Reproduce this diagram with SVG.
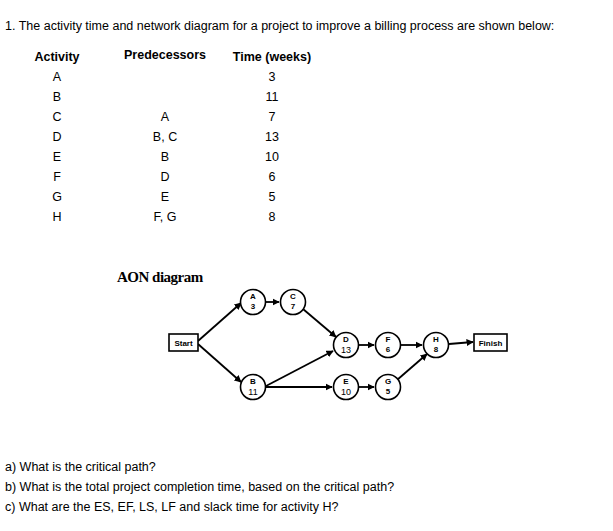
<svg xmlns="http://www.w3.org/2000/svg" width="613" height="531" viewBox="0 0 613 531">
<style>
text{font-family:"Liberation Sans",Arial,sans-serif;font-size:12.5px;fill:#000}
.h{font-weight:bold;font-size:12.5px}
.c{text-anchor:middle}
.n{text-anchor:middle;font-size:8px;font-weight:bold}
.nd circle,.nd rect{fill:#fff;stroke:#000;stroke-width:1.6}
#edges line{stroke:#000;stroke-width:1.8;marker-end:url(#ar)}
</style>
<defs><marker id="ar" viewBox="0 0 10 10" refX="9" refY="5" markerWidth="4" markerHeight="4" orient="auto"><path d="M0,0L10,5L0,10z"/></marker></defs>
<rect width="613" height="531" fill="#fff"/>
<text x="5" y="30">1. The activity time and network diagram for a project to improve a billing process are shown below:</text>
<text class="h c" x="57" y="61">Activity</text>
<text class="h c" x="165" y="59">Predecessors</text>
<text class="h c" x="272" y="61">Time (weeks)</text>
<g class="c">
<text class="c" x="57" y="81">A</text><text class="c" x="272" y="81">3</text>
<text class="c" x="57" y="101">B</text><text class="c" x="272" y="101">11</text>
<text class="c" x="57" y="121">C</text><text class="c" x="165" y="121">A</text><text class="c" x="272" y="121">7</text>
<text class="c" x="57" y="141">D</text><text class="c" x="165" y="141">B, C</text><text class="c" x="272" y="141">13</text>
<text class="c" x="57" y="161">E</text><text class="c" x="165" y="161">B</text><text class="c" x="272" y="161">10</text>
<text class="c" x="57" y="181">F</text><text class="c" x="165" y="181">D</text><text class="c" x="272" y="181">6</text>
<text class="c" x="57" y="201">G</text><text class="c" x="165" y="201">E</text><text class="c" x="272" y="201">5</text>
<text class="c" x="57" y="221">H</text><text class="c" x="165" y="221">F, G</text><text class="c" x="272" y="221">8</text>
</g>
<text x="117" y="282" style="font-family:'Liberation Serif',serif;font-size:15px;font-weight:bold;letter-spacing:-0.5px">AON diagram</text>
<g id="edges">
<line x1="198" y1="341" x2="241" y2="303"/>
<line x1="198" y1="344" x2="241" y2="382"/>
<line x1="266" y1="302" x2="279" y2="302"/>
<line x1="303" y1="309" x2="336" y2="337"/>
<line x1="266" y1="386" x2="333" y2="351"/>
<line x1="266" y1="387" x2="332" y2="387"/>
<line x1="359" y1="345" x2="374" y2="345"/>
<line x1="401" y1="345" x2="422" y2="345"/>
<line x1="359" y1="387" x2="374" y2="387"/>
<line x1="397" y1="380" x2="427" y2="354"/>
<line x1="449" y1="344" x2="473" y2="342"/>
</g>
<g id="Start" class="nd"><rect x="169" y="334" width="29" height="17"/><text class="n" x="183.5" y="345.5">Start</text></g>
<g id="Finish" class="nd"><rect x="474" y="334" width="33" height="17"/><text class="n" x="490.5" y="345.5">Finish</text></g>
<g id="A" class="nd"><circle cx="253" cy="302" r="12.5"/><text class="n" x="253" y="299">A</text><text class="n" x="253" y="309">3</text></g>
<g id="C" class="nd"><circle cx="293" cy="302" r="12.5"/><text class="n" x="293" y="299">C</text><text class="n" x="293" y="309">7</text></g>
<g id="D" class="nd"><circle cx="346" cy="345" r="12.5"/><text class="n" x="346" y="342">D</text><text class="n" x="346" y="353" style="font-weight:normal;font-size:9px">13</text></g>
<g id="F" class="nd"><circle cx="388" cy="345" r="12.5"/><text class="n" x="388" y="342">F</text><text class="n" x="388" y="352">6</text></g>
<g id="H" class="nd"><circle cx="436" cy="345" r="12.5"/><text class="n" x="436" y="342">H</text><text class="n" x="436" y="352">8</text></g>
<g id="B" class="nd"><circle cx="253" cy="387" r="12.5"/><text class="n" x="253" y="384">B</text><text class="n" x="253" y="395" style="font-weight:normal;font-size:9px">11</text></g>
<g id="E" class="nd"><circle cx="346" cy="387" r="12.5"/><text class="n" x="346" y="384">E</text><text class="n" x="346" y="395" style="font-weight:normal;font-size:9px">10</text></g>
<g id="G" class="nd"><circle cx="388" cy="387" r="12.5"/><text class="n" x="388" y="384">G</text><text class="n" x="388" y="394">5</text></g>
<text x="5" y="471">a)   What is the critical path?</text>
<text x="5" y="491">b)   What is the total project completion time, based on the critical path?</text>
<text x="5" y="511">c)   What are the ES, EF, LS, LF and slack time for activity H?</text>
</svg>
